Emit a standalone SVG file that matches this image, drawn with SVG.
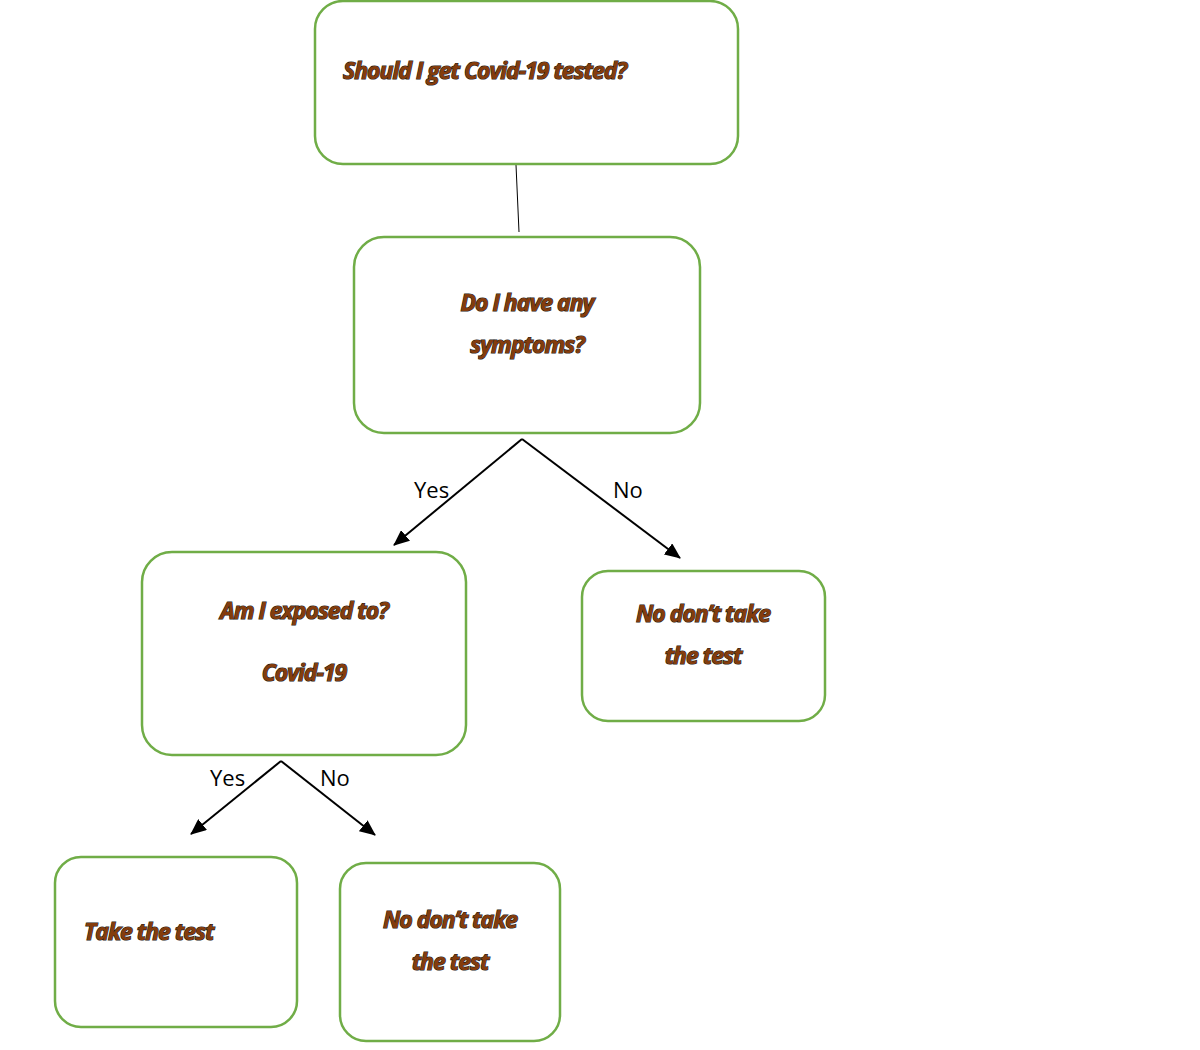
<svg xmlns="http://www.w3.org/2000/svg" width="1200" height="1050" viewBox="0 0 1200 1050">
<style>
.box{fill:#fff;stroke:#70ad47;stroke-width:2.5}
.t{font-family:"Open Sans","DejaVu Sans",sans-serif;font-weight:bold;font-style:italic;font-size:23px;fill:#843c0c;stroke:#1a1a1a;stroke-width:1.2;paint-order:stroke;letter-spacing:-1px}
.l{font-family:"Open Sans","Liberation Sans",sans-serif;font-size:22px;fill:#000}
.c{stroke:#000;stroke-width:2;fill:none}
</style>
<defs><marker id="a" markerWidth="10" markerHeight="10" refX="9" refY="5" orient="auto" markerUnits="userSpaceOnUse" viewBox="0 0 10 10"><path d="M0,0L10,5L0,10z" fill="#000"/></marker>
<marker id="b" markerWidth="16" markerHeight="14" refX="15" refY="7" orient="auto" markerUnits="userSpaceOnUse" viewBox="0 0 16 14"><path d="M0,0L16,7L0,14z" fill="#000"/></marker></defs>
<g id="connectors">
<line x1="516" y1="165" x2="519" y2="232" stroke="#000" stroke-width="1"/>
<line class="c" x1="522" y1="439" x2="394" y2="545" marker-end="url(#b)"/>
<line class="c" x1="522" y1="439" x2="680" y2="558" marker-end="url(#b)"/>
<line class="c" x1="281" y1="761" x2="191" y2="834" marker-end="url(#b)"/>
<line class="c" x1="281" y1="761" x2="375" y2="835" marker-end="url(#b)"/>
<text class="l" x="414" y="498">Yes</text>
<text class="l" x="613" y="498">No</text>
<text class="l" x="210" y="786">Yes</text>
<text class="l" x="320" y="786">No</text>
</g>
<g id="n1"><rect class="box" x="315" y="1" width="423" height="163" rx="28"/><text class="t" x="343" y="79">Should I get Covid-19 tested?</text></g>
<g id="n2"><rect class="box" x="354" y="237" width="346" height="196" rx="30"/><text class="t" x="527" y="311" text-anchor="middle">Do I have any</text><text class="t" x="527" y="353" text-anchor="middle">symptoms?</text></g>
<g id="n3"><rect class="box" x="142" y="552" width="324" height="203" rx="30"/><text class="t" x="304" y="619" text-anchor="middle">Am I exposed to?</text><text class="t" x="304" y="681" text-anchor="middle">Covid-19</text></g>
<g id="n4"><rect class="box" x="582" y="571" width="243" height="150" rx="26"/><text class="t" x="703" y="622" text-anchor="middle">No don’t take</text><text class="t" x="703" y="664" text-anchor="middle">the test</text></g>
<g id="n5"><rect class="box" x="55" y="857" width="242" height="170" rx="26"/><text class="t" x="84" y="940">Take the test</text></g>
<g id="n6"><rect class="box" x="340" y="863" width="220" height="178" rx="26"/><text class="t" x="450" y="928" text-anchor="middle">No don’t take</text><text class="t" x="450" y="970" text-anchor="middle">the test</text></g>
</svg>
